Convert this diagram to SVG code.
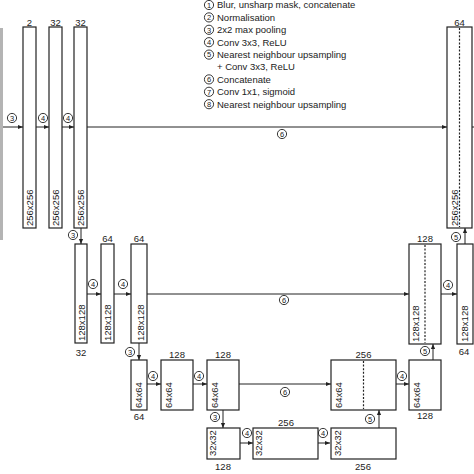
<svg xmlns="http://www.w3.org/2000/svg" width="474" height="474" viewBox="0 0 474 474">
<style>
.bx{fill:#fff;stroke:#222;stroke-width:1.2}
.dl{stroke:#222;stroke-width:1.2;stroke-dasharray:2 1.6;fill:none}
.ln{stroke:#222;stroke-width:1;fill:none}
.t{font-family:"Liberation Sans",Arial,sans-serif;font-size:9.5px;fill:#222}
.m{text-anchor:middle}
.cc{fill:#fff;stroke:#222;stroke-width:0.9}
.cn{font-family:"Liberation Sans",Arial,sans-serif;font-size:7.5px;fill:#222;text-anchor:middle}
</style>
<defs>
<marker id="ah" markerWidth="6" markerHeight="6" refX="5" refY="3" orient="auto" markerUnits="userSpaceOnUse"><path d="M0,0.9 L5,3 L0,5.1 z" fill="#222"/></marker>
<g id="c1"><circle class="cc" r="4.6"/><text class="cn" y="2.7">1</text></g>
<g id="c2"><circle class="cc" r="4.6"/><text class="cn" y="2.7">2</text></g>
<g id="c3"><circle class="cc" r="4.6"/><text class="cn" y="2.7">3</text></g>
<g id="c4"><circle class="cc" r="4.6"/><text class="cn" y="2.7">4</text></g>
<g id="c5"><circle class="cc" r="4.6"/><text class="cn" y="2.7">5</text></g>
<g id="c6"><circle class="cc" r="4.6"/><text class="cn" y="2.7">6</text></g>
<g id="c7"><circle class="cc" r="4.6"/><text class="cn" y="2.7">7</text></g>
<g id="c8"><circle class="cc" r="4.6"/><text class="cn" y="2.7">8</text></g>
</defs>
<rect x="0" y="28" width="3" height="212" fill="#b4b4b4"/>

<g id="legend">
<use href="#c1" x="209" y="5"/><text class="t" x="217" y="8.4">Blur, unsharp mask, concatenate</text>
<use href="#c2" x="209" y="17.4"/><text class="t" x="217" y="20.8">Normalisation</text>
<use href="#c3" x="209" y="29.8"/><text class="t" x="217" y="33.2">2x2 max pooling</text>
<use href="#c4" x="209" y="42.2"/><text class="t" x="217" y="45.6">Conv 3x3, ReLU</text>
<use href="#c5" x="209" y="54.6"/><text class="t" x="217" y="58">Nearest neighbour upsampling</text>
<text class="t" x="217" y="70.4">+ Conv 3x3, ReLU</text>
<use href="#c6" x="209" y="79.4"/><text class="t" x="217" y="82.8">Concatenate</text>
<use href="#c7" x="209" y="91.8"/><text class="t" x="217" y="95.2">Conv 1x1, sigmoid</text>
<use href="#c8" x="209" y="104.2"/><text class="t" x="217" y="107.6">Nearest neighbour upsampling</text>
</g>

<g id="connectors">
<line class="ln" x1="3" y1="127" x2="23" y2="127" marker-end="url(#ah)"/>
<line class="ln" x1="36" y1="127" x2="49" y2="127" marker-end="url(#ah)"/>
<line class="ln" x1="62" y1="127" x2="74" y2="127" marker-end="url(#ah)"/>
<line class="ln" x1="87" y1="127" x2="447" y2="127" marker-end="url(#ah)"/>
<line class="ln" x1="472" y1="127" x2="474" y2="127"/>
<line class="ln" x1="81" y1="228" x2="81" y2="244" marker-end="url(#ah)"/>
<line class="ln" x1="87" y1="294" x2="101" y2="294" marker-end="url(#ah)"/>
<line class="ln" x1="114" y1="294" x2="131" y2="294" marker-end="url(#ah)"/>
<line class="ln" x1="147" y1="294" x2="409" y2="294" marker-end="url(#ah)"/>
<line class="ln" x1="441" y1="294" x2="457" y2="294" marker-end="url(#ah)"/>
<line class="ln" x1="465" y1="244" x2="465" y2="228" marker-end="url(#ah)"/>
<line class="ln" x1="139" y1="343" x2="139" y2="360" marker-end="url(#ah)"/>
<line class="ln" x1="147" y1="384" x2="161" y2="384" marker-end="url(#ah)"/>
<line class="ln" x1="193" y1="384" x2="207" y2="384" marker-end="url(#ah)"/>
<line class="ln" x1="239" y1="384" x2="331" y2="384" marker-end="url(#ah)"/>
<line class="ln" x1="396" y1="384" x2="409" y2="384" marker-end="url(#ah)"/>
<line class="ln" x1="433" y1="360" x2="433" y2="344" marker-end="url(#ah)"/>
<line class="ln" x1="223" y1="410" x2="223" y2="428" marker-end="url(#ah)"/>
<line class="ln" x1="240" y1="443" x2="253" y2="443" marker-end="url(#ah)"/>
<line class="ln" x1="318" y1="443" x2="330" y2="443" marker-end="url(#ah)"/>
<line class="ln" x1="379" y1="428" x2="379" y2="410" marker-end="url(#ah)"/>
<use href="#c3" x="12" y="118"/>
<use href="#c4" x="43" y="118"/>
<use href="#c4" x="68" y="118"/>
<use href="#c6" x="282" y="134"/>
<use href="#c3" x="73" y="235"/>
<use href="#c4" x="93" y="284"/>
<use href="#c4" x="123" y="284"/>
<use href="#c6" x="284" y="300"/>
<use href="#c4" x="448" y="285"/>
<use href="#c5" x="456" y="237"/>
<use href="#c3" x="130" y="352"/>
<use href="#c4" x="153" y="376"/>
<use href="#c4" x="199" y="376"/>
<use href="#c6" x="285" y="392"/>
<use href="#c4" x="402" y="376"/>
<use href="#c5" x="425" y="351"/>
<use href="#c3" x="215" y="417"/>
<use href="#c4" x="247" y="433"/>
<use href="#c4" x="323" y="433"/>
<use href="#c5" x="370" y="419"/>
</g>

<g id="nA"><rect class="bx" x="23" y="27" width="13" height="201"/><text class="t m" x="29.5" y="25.5">2</text><text class="t" transform="translate(33,226) rotate(-90)">256x256</text></g>
<g id="nB"><rect class="bx" x="49" y="27" width="13" height="201"/><text class="t m" x="55.5" y="25.5">32</text><text class="t" transform="translate(59,226) rotate(-90)">256x256</text></g>
<g id="nC"><rect class="bx" x="74" y="27" width="13" height="201"/><text class="t m" x="80.5" y="25.5">32</text><text class="t" transform="translate(84,226) rotate(-90)">256x256</text></g>
<g id="nD"><rect class="bx" x="447" y="27" width="25" height="201"/><line class="dl" x1="459.5" y1="28" x2="459.5" y2="227"/><text class="t m" x="459.5" y="25.5">64</text><text class="t" transform="translate(458,226) rotate(-90)">256x256</text></g>

<g id="nE"><rect class="bx" x="75" y="244" width="12" height="99"/><text class="t m" x="81" y="356">32</text><text class="t" transform="translate(84.5,341) rotate(-90)">128x128</text></g>
<g id="nF"><rect class="bx" x="101" y="244" width="13" height="99"/><text class="t m" x="107.5" y="241.5">64</text><text class="t" transform="translate(110.5,341) rotate(-90)">128x128</text></g>
<g id="nG"><rect class="bx" x="131" y="244" width="16" height="99"/><text class="t m" x="139" y="241.5">64</text><text class="t" transform="translate(143.5,341) rotate(-90)">128x128</text></g>
<g id="nH"><rect class="bx" x="409" y="244" width="32" height="100"/><line class="dl" x1="425" y1="245" x2="425" y2="343"/><text class="t m" x="425" y="241.5">128</text><text class="t" transform="translate(418.5,342) rotate(-90)">128x128</text></g>
<g id="nI"><rect class="bx" x="457" y="244" width="16" height="100"/><text class="t m" x="464" y="355">64</text><text class="t" transform="translate(467.5,342) rotate(-90)">128x128</text></g>

<g id="nJ"><rect class="bx" x="131" y="360" width="16" height="50"/><text class="t m" x="139" y="420">64</text><text class="t" transform="translate(141.5,408) rotate(-90)">64x64</text></g>
<g id="nK"><rect class="bx" x="161" y="360" width="32" height="50"/><text class="t m" x="177" y="357.5">128</text><text class="t" transform="translate(171.5,408) rotate(-90)">64x64</text></g>
<g id="nL"><rect class="bx" x="207" y="360" width="32" height="50"/><text class="t m" x="223" y="357.5">128</text><text class="t" transform="translate(217.5,408) rotate(-90)">64x64</text></g>
<g id="nM"><rect class="bx" x="331" y="360" width="65" height="50"/><line class="dl" x1="363.5" y1="361" x2="363.5" y2="409"/><text class="t m" x="363.5" y="357.5">256</text><text class="t" transform="translate(341.5,408) rotate(-90)">64x64</text></g>
<g id="nN"><rect class="bx" x="409" y="360" width="32" height="50"/><text class="t m" x="425" y="419">128</text><text class="t" transform="translate(419.5,408) rotate(-90)">64x64</text></g>

<g id="nO"><rect class="bx" x="207" y="428" width="33" height="31"/><text class="t m" x="223" y="469.5">128</text><text class="t" transform="translate(215.5,456) rotate(-90)">32x32</text></g>
<g id="nP"><rect class="bx" x="253" y="428" width="65" height="31"/><text class="t m" x="286" y="425.5">256</text><text class="t" transform="translate(261.5,456) rotate(-90)">32x32</text></g>
<g id="nQ"><rect class="bx" x="331" y="428" width="65" height="31"/><text class="t m" x="363" y="469.5">256</text><text class="t" transform="translate(340.5,456) rotate(-90)">32x32</text></g>
</svg>
